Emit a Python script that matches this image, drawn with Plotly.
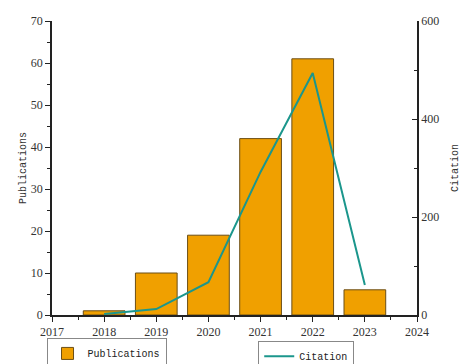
import plotly.graph_objects as go

years = [2018, 2019, 2020, 2021, 2022, 2023]
publications = [1, 10, 19, 42, 61, 6]
citations = [2, 12, 67, 292, 494, 61]

FONT = "Liberation Serif"
MONO = "Liberation Mono"

fig = go.Figure()
fig.add_trace(go.Bar(
    x=years, y=publications, name="Publications", width=0.8,
    marker=dict(color="#F0A000", line=dict(color="#6b4e16", width=1)),
    legend="legend", yaxis="y"))
fig.add_trace(go.Scatter(
    x=years, y=citations, name="Citation", mode="lines",
    line=dict(color="#1b968c", width=2),
    legend="legend2", yaxis="y2"))

axis_common = dict(showline=True, linecolor="#222", linewidth=1.5, showgrid=False,
                   zeroline=False, tickfont=dict(family=FONT, size=12, color="#333"),
                   ticklen=5, tickwidth=1.2, tickcolor="#222")

fig.update_layout(
    width=474, height=364,
    margin=dict(l=44, r=65, t=13, b=57, autoexpand=False),
    plot_bgcolor="white", paper_bgcolor="white",
    showlegend=True,
    xaxis=dict(range=[2017, 2024], dtick=1, tick0=2017, ticks="outside",
               minor=dict(dtick=0.5, ticks="outside", ticklen=3, tickcolor="#222"),
               **axis_common),
    yaxis=dict(range=[0, 70], dtick=10, ticks="outside",
               minor=dict(dtick=5, ticks="outside", ticklen=3, tickcolor="#222"),
               title=dict(text="Publications", font=dict(family=MONO, size=10, color="#333"), standoff=2),
               **axis_common),
    yaxis2=dict(range=[0, 600], dtick=200, ticks="inside", side="right", overlaying="y",
                minor=dict(dtick=100, ticks="inside", ticklen=3, tickcolor="#222"),
                title=dict(text="Citation", font=dict(family=MONO, size=10, color="#333"), standoff=13),
                **axis_common),
    legend=dict(x=-0.015, y=-0.078, xanchor="left", yanchor="top",
                bordercolor="#888", borderwidth=1, bgcolor="white",
                font=dict(family=MONO, size=10, color="#222"),
                itemwidth=30),
    legend2=dict(x=0.565, y=-0.088, xanchor="left", yanchor="top",
                 bordercolor="#888", borderwidth=1, bgcolor="white",
                 font=dict(family=MONO, size=10, color="#222"),
                 itemwidth=30),
)

fig.write_html("out.html")
